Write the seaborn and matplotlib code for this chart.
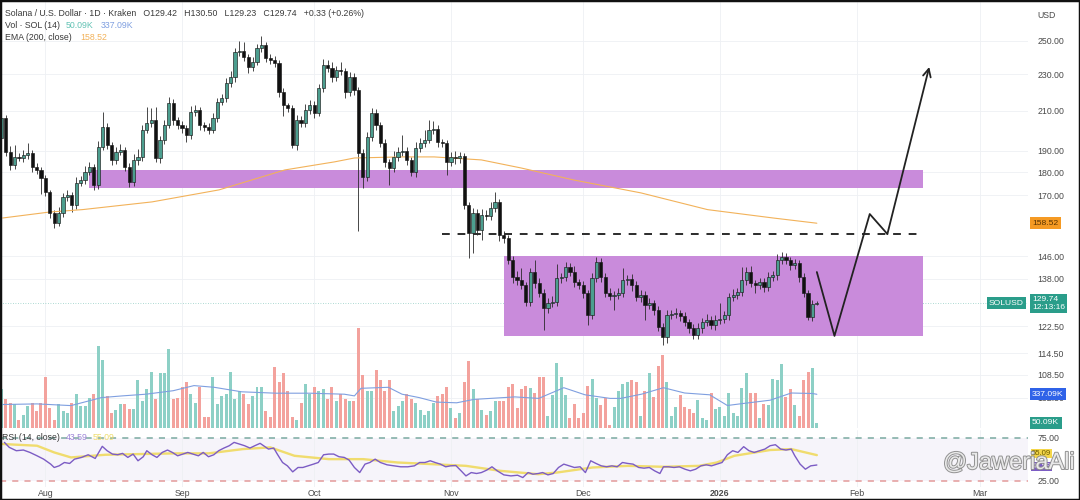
import numpy as np
import pandas as pd
import matplotlib
matplotlib.use('Agg')
import matplotlib.pyplot as plt
import matplotlib.patheffects as pe
from matplotlib.patches import Rectangle
from matplotlib.ticker import NullLocator
import seaborn as sns

sns.set_style('white')
plt.rcParams['font.family'] = ['Liberation Sans', 'DejaVu Sans']

# ---- data (daily candles from 22 Jul 2025) ----
start_date = '2025-07-22'
first_open = 196.2
closes = [
    206.3, 189.4, 183.4, 187.1, 186.6, 188.0, 189.0, 182.5, 181.1, 177.5,
    171.4, 162.6, 158.6, 162.6, 169.3, 170.1, 165.9, 175.3, 176.6, 180.2,
    182.5, 174.4, 191.8, 201.7, 192.8, 185.7, 189.4, 190.4, 182.5, 175.7,
    185.7, 187.1, 200.1, 203.7, 205.2, 186.6, 195.2, 202.7, 214.1, 205.2,
    202.7, 201.1, 197.6, 209.4, 210.4, 202.7, 201.7, 200.1, 206.3, 214.7,
    216.8, 225.1, 228.5, 243.2, 243.9, 240.2, 234.3, 237.2, 245.7, 247.5,
    239.6, 238.4, 236.6, 220.1, 213.0, 211.5, 192.8, 205.2, 203.7, 210.4,
    213.0, 208.8, 222.3, 235.5, 233.7, 228.5, 232.5, 232.0, 220.1, 228.5,
    221.2, 189.0, 177.9, 196.7, 208.8, 202.7, 193.7, 184.8, 182.0, 187.1,
    189.4, 189.9, 185.7, 180.2, 191.3, 193.7, 195.2, 200.1, 200.6, 194.2,
    193.7, 184.8, 187.1, 186.6, 187.6, 165.9, 154.7, 162.6, 155.9, 161.8,
    161.4, 164.7, 167.2, 153.9, 152.8, 144.6, 138.6, 137.6, 135.9, 130.3,
    140.3, 136.5, 133.2, 128.3, 129.9, 130.3, 138.2, 138.6, 142.1, 140.3,
    136.9, 135.9, 133.2, 126.1, 138.2, 143.9, 138.6, 133.2, 132.2, 132.5,
    133.2, 137.6, 137.9, 135.9, 131.8, 132.5, 129.2, 129.9, 127.6, 122.3,
    119.3, 126.1, 126.4, 126.6, 125.8, 123.8, 122.0, 119.9, 122.0, 123.8,
    124.5, 122.9, 124.5, 124.9, 126.1, 131.8, 132.5, 133.5, 137.6, 140.3,
    136.5, 135.9, 136.9, 135.2, 138.6, 139.3, 144.6, 145.7, 144.6, 142.8,
    143.5, 138.6, 133.2, 125.5, 129.42, 129.74,
]
# wick lengths in percent beyond the body
wick_up = [
    1.0, 0.8, 1.5, 3.0, 1.0, 1.2, 2.5, 0.8, 1.0, 0.8,
    0.8, 0.6, 0.8, 1.5, 1.0, 1.2, 0.8, 1.5, 1.0, 1.5,
    1.2, 0.8, 1.5, 3.7, 1.0, 0.8, 1.2, 1.5, 0.8, 1.0,
    1.5, 2.0, 1.2, 4.0, 3.0, 3.2, 1.0, 1.2, 1.5, 1.0,
    0.8, 1.0, 0.8, 1.5, 1.2, 0.8, 0.8, 1.0, 1.2, 1.0,
    1.0, 1.2, 1.5, 1.0, 2.5, 2.2, 0.8, 1.2, 1.0, 2.2,
    0.8, 1.0, 1.0, 0.8, 1.0, 0.6, 0.8, 1.2, 1.0, 1.5,
    1.2, 1.0, 1.0, 1.5, 1.2, 1.5, 1.0, 2.0, 0.8, 1.2,
    1.0, 0.8, 1.0, 1.2, 1.3, 1.0, 0.8, 1.0, 0.8, 1.5,
    1.2, 4.2, 1.0, 0.8, 1.5, 1.2, 2.5, 2.5, 2.0, 1.0,
    0.8, 0.8, 1.2, 1.5, 1.0, 0.8, 0.8, 1.2, 1.0, 1.5,
    1.2, 1.5, 2.5, 0.8, 1.0, 0.8, 1.0, 1.5, 3.0, 0.8,
    1.0, 3.0, 1.2, 1.0, 1.2, 1.5, 3.7, 1.0, 1.3, 1.0,
    1.5, 0.8, 1.0, 0.8, 1.2, 1.3, 1.0, 1.0, 1.2, 1.0,
    1.2, 3.0, 1.0, 1.2, 1.0, 1.2, 1.0, 1.2, 0.8, 1.0,
    1.0, 1.2, 1.0, 1.2, 0.8, 1.0, 0.8, 1.0, 1.2, 1.0,
    1.5, 1.0, 1.2, 4.0, 1.0, 1.0, 1.5, 1.0, 3.2, 1.2,
    1.5, 0.8, 1.0, 1.0, 1.2, 1.0, 1.5, 1.2, 1.0, 0.8,
    1.0, 0.8, 1.0, 0.8, 1.0, 0.6,
]
wick_dn = [
    1.0, 1.0, 1.2, 1.0, 0.8, 1.0, 1.0, 1.2, 1.0, 4.0,
    1.0, 1.2, 1.2, 0.8, 1.0, 1.0, 1.7, 1.0, 0.8, 1.0,
    0.8, 1.2, 1.0, 0.8, 1.0, 1.2, 1.0, 0.8, 1.0, 1.2,
    1.0, 1.2, 1.0, 0.8, 1.0, 1.0, 1.2, 1.0, 0.8, 1.2,
    1.0, 1.2, 1.8, 1.0, 1.0, 1.2, 1.0, 1.0, 0.8, 1.0,
    0.8, 1.0, 1.0, 1.2, 1.0, 1.0, 1.5, 1.0, 0.8, 1.0,
    1.0, 1.0, 1.0, 1.2, 2.7, 1.0, 0.8, 1.2, 1.0, 1.0,
    1.0, 1.2, 0.8, 1.0, 1.0, 1.2, 1.0, 1.0, 1.5, 1.0,
    1.2, 17.8, 2.7, 1.0, 1.0, 1.2, 1.0, 1.2, 4.2, 1.0,
    1.0, 1.0, 1.2, 1.0, 1.2, 1.0, 1.0, 0.8, 1.0, 1.2,
    1.0, 3.2, 1.0, 1.5, 1.2, 1.0, 6.0, 5.0, 1.2, 2.5,
    1.0, 1.0, 1.0, 1.5, 1.2, 1.0, 1.5, 1.2, 1.0, 1.0,
    1.0, 1.2, 1.0, 5.5, 1.2, 1.0, 1.0, 1.2, 1.0, 1.0,
    1.2, 1.0, 1.2, 2.5, 1.0, 1.0, 1.2, 1.0, 1.0, 3.5,
    1.0, 1.0, 1.2, 1.5, 1.0, 1.2, 3.7, 1.0, 1.2, 1.0,
    2.0, 1.5, 1.0, 1.0, 1.2, 1.0, 1.2, 1.0, 1.0, 1.2,
    1.0, 1.0, 1.2, 1.0, 1.0, 1.2, 1.0, 1.0, 1.0, 1.2,
    1.0, 2.0, 1.0, 1.2, 1.0, 1.0, 1.2, 1.0, 1.0, 1.2,
    1.0, 1.2, 1.0, 0.8, 1.0, 0.2,
]
# volume in thousands of SOL
volumes = [
    390, 286, 252, 235, 79, 131, 217, 252, 166,
    252, 511, 200, 79, 235, 166, 148, 252, 338, 217,
    217, 304, 338, 821, 683, 321, 148, 183, 235, 235,
    190, 190, 476, 269, 390, 562, 286, 545, 545, 787,
    286, 304, 407, 459, 338, 252, 407, 114, 114, 511,
    235, 321, 338, 562, 286, 373, 338, 235, 321, 407,
    407, 166, 114, 614, 459, 545, 373, 114, 79, 252,
    442, 338, 407, 373, 390, 286, 407, 269, 338, 286,
    269, 269, 1000, 528, 373, 373, 580, 476, 373, 476,
    166, 217, 269, 338, 286, 252, 183, 131, 166, 252,
    321, 338, 407, 200, 97, 148, 459, 666, 390, 286,
    183, 131, 166, 269, 269, 269, 407, 442, 200, 390, 424,
    403, 350, 510, 510, 118, 332, 653, 510, 332, 100,
    243, 100, 154, 421, 493, 296, 225, 296, 29, 207,
    368, 439, 457, 475, 457, 118, 368, 546, 314, 618,
    725, 457, 118, 207, 332, 207, 189, 154, 278, 100,
    82, 350, 189, 207, 118, 350, 154, 118, 403, 546,
    350, 350, 100, 243, 225, 493, 475, 635, 314, 386,
    225, 118, 475, 564, 600, 50.09,
]
vol_ma_day = [0.3, 8.1, 15.8, 22.7, 27.4, 32.8, 39.0, 43.7, 48.3, 54.5, 62.3, 70.0,
              77.8, 80.1, 81.6, 87.8, 90.9, 94.8, 98.7, 103.3, 107.2, 116.5, 121.9,
              127.6, 132.4, 138.1, 140.5, 145.3, 150.2, 155.0, 160.7, 164.7, 167.9,
              174.4, 179.2, 184.0, 185.0]
vol_ma = [235, 241, 224, 304, 321, 338, 373, 424, 407, 362, 348, 348,
          338, 321, 397, 407, 338, 304, 259, 252, 286, 311, 296,
          403, 332, 296, 296, 339, 403, 350, 332, 225, 243,
          278, 350, 345, 337.09]
ema_day = [0.3, 10.9, 18.4, 34.2, 49.4, 64.3, 75.6, 80.1, 90.8, 98.2, 108.9,
           117.9, 129.9, 145.1, 160.2, 175.1, 185.0]
ema_vals = [160.6, 163.0, 164.0, 167.2, 172.3, 181.1, 184.8, 186.6, 187.1, 187.1, 185.7,
            182.0, 176.6, 171.0, 164.0, 160.6, 158.52]
rsi_day = [
    0.7, 1.8, 3.4, 5.0, 6.5, 8.1, 9.6, 11.2, 12.0, 13.1, 14.3, 15.5, 16.6, 18.2,
    19.7, 21.3, 22.9, 24.0, 25.2, 26.4, 27.5, 28.7, 29.9, 31.0, 32.2, 33.0, 34.2,
    35.3, 36.5, 37.7, 38.8, 40.0, 41.2, 42.3, 43.5, 44.7, 45.8, 47.0, 48.2, 49.3,
    50.5, 51.7, 52.8, 54.0, 55.2, 56.4, 57.5, 58.7, 59.5, 60.6, 61.8, 62.6, 63.8,
    64.9, 66.1, 67.3, 68.4, 69.6, 70.8, 71.9, 73.1, 74.3, 75.4, 76.6, 77.8, 78.9,
    80.1, 81.3, 82.5, 83.6, 84.8, 86.0, 87.5, 89.1, 90.6, 92.2, 93.7, 94.9, 96.1,
    97.3, 98.4, 99.6, 100.8, 101.9, 103.1, 104.3, 105.4, 106.6, 107.8, 108.9,
    110.1, 111.3, 112.5, 114.0, 115.6, 117.1, 118.3, 119.5, 120.6, 121.8,
    122.8, 124.0, 125.2, 126.4, 127.6, 128.8, 130.0, 131.3, 132.5, 133.7, 134.9,
    136.1, 137.3, 138.5, 139.7, 140.9, 142.1, 143.3, 144.6, 145.8, 147.0, 148.2,
    149.4, 150.2, 151.4, 152.6, 153.8, 155.1, 156.3, 157.5, 158.7, 159.9, 161.1,
    162.3, 163.5, 164.7, 165.9, 167.1, 168.4, 169.6, 170.8, 172.0, 173.2, 174.4,
    175.6, 176.8, 178.0, 179.2, 180.0, 181.2, 182.4, 183.6, 185.0,
]
rsi_vals = [
    69.9, 64.1, 60.2, 61.0, 58.2, 54.3, 50.4, 44.6, 40.7, 42.6, 46.5, 45.4, 50.4, 52.4,
    55.5, 51.2, 65.3, 60.2, 56.3, 55.5, 57.1, 52.4, 56.3, 48.5, 53.2, 60.2, 55.5,
    52.4, 58.2, 61.0, 58.2, 54.3, 56.3, 58.2, 56.3, 54.3, 58.2, 53.2, 55.5, 60.2,
    63.3, 66.0, 69.9, 68.0, 66.0, 63.3, 66.0, 68.8, 66.0, 62.1, 63.3, 56.3, 46.5,
    42.6, 35.6, 40.7, 40.7, 42.6, 44.6, 46.5, 55.5, 56.3, 56.3, 53.2, 52.4, 49.3,
    40.7, 34.8, 44.6, 46.5, 50.4, 46.5, 43.8, 42.6, 41.5, 41.5, 42.6, 46.5, 46.5,
    48.5, 46.5, 44.6, 41.5, 42.6, 43.0, 36.8, 30.9, 34.8, 33.7, 34.8,
    37.6, 41.5, 36.8, 32.1, 30.9, 31.7, 29.0, 34.8, 32.9, 33.7,
    34.8, 32.1, 33.7, 40.7, 44.6, 42.6, 40.7, 41.5, 34.8, 48.5, 45.4,
    42.6, 41.5, 42.6, 41.5, 46.5, 45.4, 44.6, 40.7, 39.9, 40.7, 36.8,
    33.7, 41.5, 41.5, 40.7, 41.5, 38.7, 36.8, 38.7, 42.6, 43.8, 42.6,
    44.6, 46.5, 55.5, 60.2, 58.2, 64.9, 60.2, 58.2, 60.2, 62.1, 66.0,
    67.2, 62.1, 61.0, 62.1, 54.3, 44.6, 38.7, 42.6, 43.59,
]
rsi_ma_day = [0.3, 8.1, 12.0, 15.8, 23.6, 31.4, 39.2, 47.0, 54.8, 61.0, 66.5, 74.3, 82.1,
              89.9, 97.6, 105.4, 113.2, 121.8, 126.0, 134.1, 142.1, 150.2, 158.3, 162.3,
              166.3, 174.4, 179.2, 185.0]
rsi_ma_vals = [68.0, 66.0, 58.2, 52.4, 55.5, 56.3, 57.1, 57.1, 62.1, 64.1, 54.3, 50.4, 50.4,
               46.5, 44.6, 42.6, 36.8, 32.9, 34.8, 40.7, 42.6, 41.5, 42.6, 46.5,
               54.3, 61.0, 62.1, 55.09]

# drawn zones and projection
upper_zone = ('2025-08-11', '2026-02-16', 173.2, 181.1)
lower_zone = ('2025-11-13', '2026-02-16', 119.6, 146.1)
retest_level = ('2025-10-30', '2026-02-16', 154.3)
proj_dates = ['2026-01-23', '2026-01-27', '2026-02-04', '2026-02-08', '2026-02-17']
proj_prices = [140.3, 119.6, 162.2, 154.3, 234.3]

price_ticks = [250, 230, 210, 190, 180, 170, 146, 138, 122.5, 114.5, 108.5, 102.5]
month_ticks = ['2025-08-01', '2025-09-01', '2025-10-01', '2025-11-01', '2025-12-01',
               '2026-01-01', '2026-02-01', '2026-03-01']
month_labels = ['Aug', 'Sep', 'Oct', 'Nov', 'Dec', '2026', 'Feb', 'Mar']

last_close = 129.74
ema_last = 158.52
vol_last = 50.09
vol_ma_last = 337.09
rsi_last = 43.59
rsi_ma_last = 55.09

# ---- colours ----
UP = '#4c9e8f'
DOWN = '#111111'
VOL_UP = '#8dd0c6'
VOL_DN = '#f3a29d'
ZONE = '#c98bdb'
TEAL_TAG = '#2a9d8a'

t0 = pd.Timestamp(start_date)
dates = pd.date_range(t0, periods=len(closes), freq='D')


def day_to_date(days):
    return t0 + pd.to_timedelta(np.asarray(days, dtype=float), unit='D')


opens = np.array([first_open] + closes[:-1])
c = np.array(closes)
hi = np.maximum(opens, c) * (1 + np.array(wick_up) / 100)
lo = np.minimum(opens, c) * (1 - np.array(wick_dn) / 100)
up = c >= opens

fig = plt.figure(figsize=(10.8, 5.0), dpi=100)
fig.patch.set_facecolor('white')
ax = fig.add_axes([0, 1 - 428 / 500, 1028 / 1080, 426 / 500])
axr = fig.add_axes([0, 1 - 487 / 500, 1028 / 1080, 57 / 500], sharex=ax)

# ---- main price pane ----
ax.set_yscale('log')
ax.set_ylim(95.0, 275.6)

for a, b, y0, y1 in [upper_zone, lower_zone]:
    ax.fill_between(pd.to_datetime([a, b]), y0, y1, color=ZONE, lw=0, zorder=2)

ax.vlines(dates, lo, hi, color='#2a2a2a', lw=0.6, zorder=3)
body_lo = np.minimum(opens, c)
body_h = np.maximum(np.abs(c - opens), 0.25)
ax.bar(dates, body_h, bottom=body_lo, width=0.72,
       color=np.where(up, UP, DOWN), edgecolor='#1a1a1a', linewidth=0.45, zorder=4)

sns.lineplot(x=day_to_date(ema_day), y=ema_vals, ax=ax, color='#f2b25a', lw=0.8, zorder=3)

ax.hlines(retest_level[2], pd.Timestamp(retest_level[0]), pd.Timestamp(retest_level[1]),
          colors='#2b2b2b', linestyles=(0, (4, 4)), lw=1.4, zorder=5)
ax.axhline(last_close, color='#2a9d8a', lw=0.6, ls=(0, (1, 2)), alpha=0.5, zorder=1)

px = pd.to_datetime(proj_dates) + pd.to_timedelta([0, 0, 0, 0, 12], unit='h')
ax.plot(px[:4], proj_prices[:4], color='#222222', lw=1.3, zorder=6)
ax.annotate('', xy=(px[4], proj_prices[4]), xytext=(px[3], proj_prices[3]),
            arrowprops=dict(arrowstyle='->', lw=1.3, color='#222222', mutation_scale=14,
                            shrinkA=0, shrinkB=0), zorder=6)
ax.set_xlabel('')
ax.set_ylabel('')

# ---- volume overlay (twinx moves the price ticks, so set them afterwards) ----
axv = ax.twinx()
axv.bar(dates, volumes, width=0.68, color=np.where(up, VOL_UP, VOL_DN), lw=0, zorder=1)
sns.lineplot(x=day_to_date(vol_ma_day), y=vol_ma, ax=axv, color='#7f9fe0', lw=0.8)
axv.set_ylim(0, 4260)
axv.set_yticks([])
axv.set_ylabel('')
for s in axv.spines.values():
    s.set_visible(False)

ax.yaxis.tick_right()
ax.set_yticks(price_ticks)
ax.set_yticklabels([f'{t:.2f}' for t in price_ticks])
ax.yaxis.set_minor_locator(NullLocator())
ax.tick_params(axis='y', which='both', length=0, pad=7, labelsize=6.3, labelcolor='#4a4a4a',
               left=False, labelleft=False, right=False, labelright=True)
ax.tick_params(axis='x', length=0, labelbottom=False)
ax.grid(True, color='#eef0f4', lw=0.6)
ax.set_axisbelow(True)
for s in ax.spines.values():
    s.set_visible(False)

# ---- RSI pane ----
axr.axhspan(25, 75, color='#f6f4fa', lw=0, zorder=0)
axr.axhline(75, color='#7aa9a0', ls=(0, (4, 4)), lw=1.1)
axr.axhline(25, color='#e39a9a', ls=(0, (4, 4)), lw=1.1)
sns.lineplot(x=day_to_date(rsi_ma_day), y=rsi_ma_vals, ax=axr, color='#f0dc6e', lw=1.7)
sns.lineplot(x=day_to_date(rsi_day), y=rsi_vals, ax=axr, color='#7c5cc4', lw=1.0)
axr.set_ylim(18.0, 84.3)
axr.yaxis.tick_right()
axr.set_yticks([75, 25])
axr.set_yticklabels(['75.00', '25.00'])
axr.tick_params(axis='y', length=0, pad=7, labelsize=6.3, labelcolor='#4a4a4a')
axr.set_xticks(pd.to_datetime(month_ticks))
axr.set_xticklabels(month_labels)
axr.tick_params(axis='x', length=0, pad=1.5, labelsize=6.3, labelcolor='#4a4a4a')
axr.get_xticklabels()[5].set_fontweight('bold')
axr.grid(True, axis='x', color='#eef0f4', lw=0.6)
axr.set_xlabel('')
axr.set_ylabel('')
for s in axr.spines.values():
    s.set_visible(False)
ax.set_xlim(t0 - pd.Timedelta(days=0.3), t0 + pd.Timedelta(days=232.9))


# ---- right-hand value tags ----
def tag(axis, y, text, fc, tc='white', x=1.004, fs=6.1, pad=0.28):
    axis.annotate(text, xy=(x, y), xycoords=('axes fraction', 'data'), ha='left', va='center',
                  fontsize=fs, color=tc, annotation_clip=False, zorder=10, linespacing=1.1,
                  bbox=dict(boxstyle=f'square,pad={pad}', fc=fc, ec='none'))


tag(ax, ema_last, f'{ema_last:.2f}', '#f59a23', tc='#5a3300')
tag(ax, last_close, f'{last_close:.2f}\n12:13:16', TEAL_TAG)
tag(ax, last_close, 'SOLUSD', TEAL_TAG, x=0.962)
tag(axv, vol_ma_last, f'{vol_ma_last:.2f}K', '#2f62e8')
tag(axv, vol_last, f'{vol_last:.2f}K', TEAL_TAG)
tag(axr, rsi_ma_last + 1.5, f'{rsi_ma_last:.2f}', '#f4d64a', tc='#6a5a00', fs=5.6, pad=0.12)
tag(axr, rsi_last - 1.5, f'{rsi_last:.2f}', '#7c5cc4', fs=5.6, pad=0.12)


# ---- legend texts ----
def ftext(xp, yp, s, color='#3a3a3a', fs=6.3, **kw):
    fig.text(xp / 1080, 1 - yp / 500, s, color=color, fontsize=fs, va='center', ha='left', **kw)


ftext(5, 14, 'Solana / U.S. Dollar · 1D · Kraken   O129.42   H130.50   L129.23   C129.74   +0.33 (+0.26%)')
ftext(5, 26, 'Vol · SOL (14)')
ftext(66, 26, f'{vol_last:.2f}K', color='#62c2b4')
ftext(101, 26, f'{vol_ma_last:.2f}K', color='#7f9fe0')
ftext(5, 38, 'EMA (200, close)')
ftext(80, 38, f'{ema_last:.2f}', color='#f2b25a')
ftext(1037, 15, 'USD', color='#4a4a4a')
ftext(2, 437, 'RSI (14, close)')
ftext(66, 437, f'{rsi_last:.2f}', color='#9f86d8')
ftext(93, 437, f'{rsi_ma_last:.2f}', color='#eedc6a')

fig.text(1075 / 1080, 1 - 463 / 500, '@JaweriaAli', ha='right', va='center', fontsize=17,
         color='#eeeeee', alpha=0.95,
         path_effects=[pe.withStroke(linewidth=1.4, foreground='#8c8c8c')])

fig.patches.append(Rectangle((0, 0), 1, 1, transform=fig.transFigure, fill=False,
                             ec='#111111', lw=2.5, zorder=20))

fig.savefig('out.png', dpi=100)
